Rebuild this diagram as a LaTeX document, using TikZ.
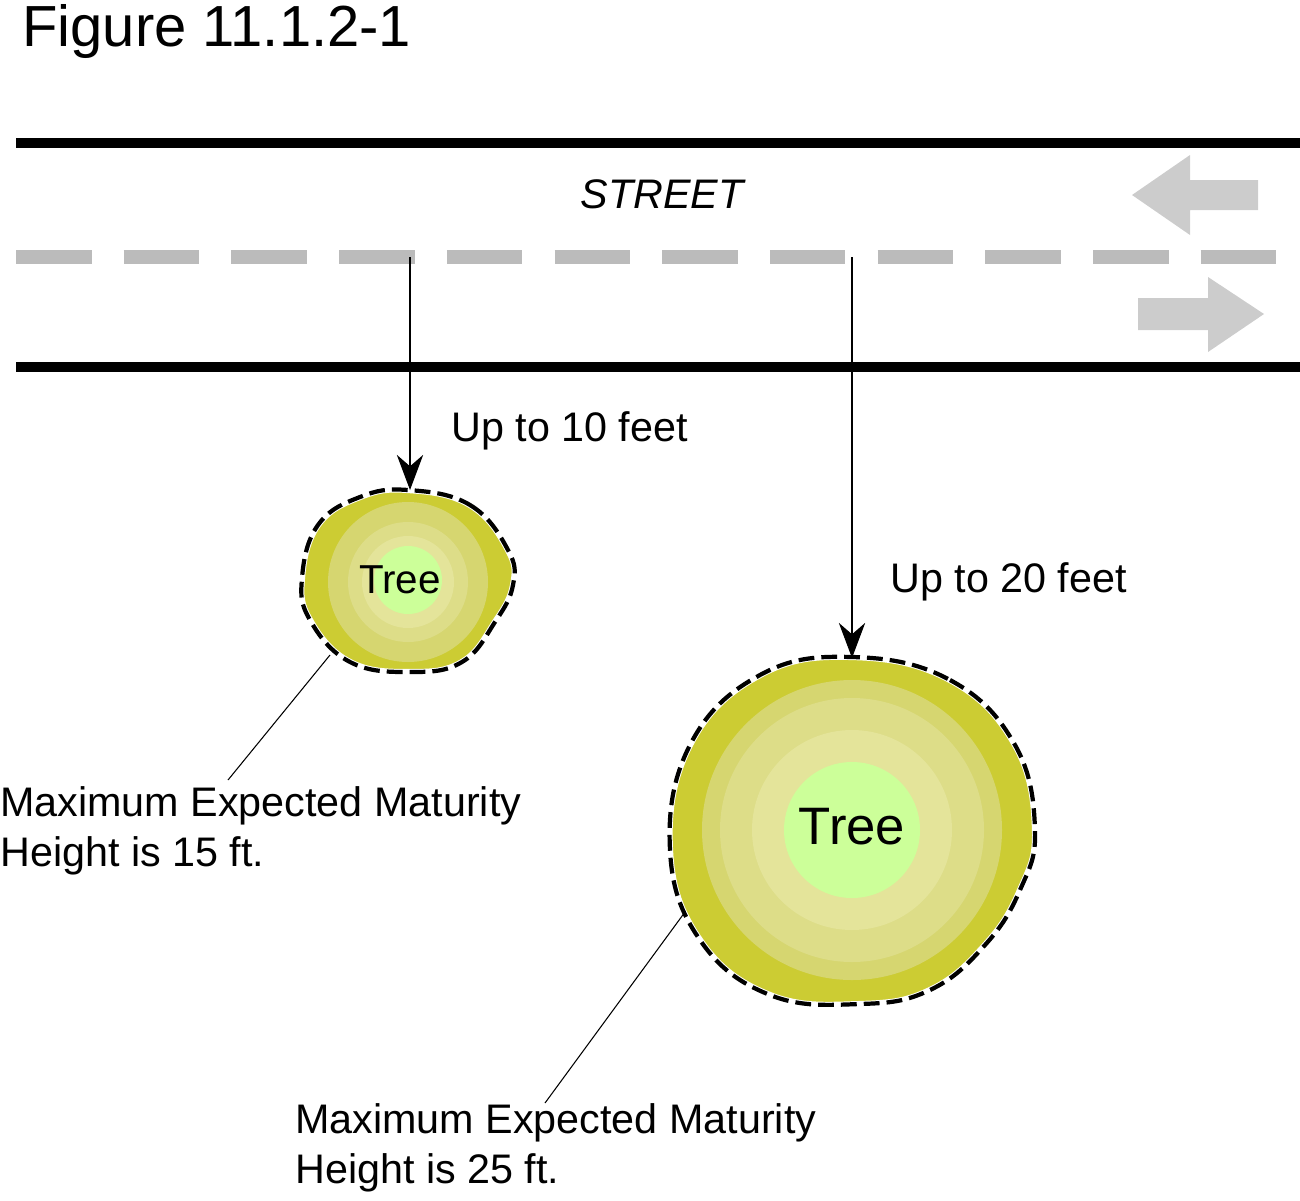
\documentclass[tikz,border=0pt]{standalone}
\usepackage{fontspec}
\setmainfont{Liberation Sans}
\usetikzlibrary{arrows.meta}
\definecolor{ring1}{HTML}{CCCC33}
\definecolor{ring2}{HTML}{D6D670}
\definecolor{ring3}{HTML}{DDDD88}
\definecolor{ring4}{HTML}{E4E49A}
\definecolor{core}{HTML}{CCFF99}
\definecolor{road}{HTML}{BBBBBB}
\definecolor{garrow}{HTML}{CCCCCC}
\begin{document}
\begin{tikzpicture}[x=0.02cm,y=-0.02cm,
  lbl/.style={font=\fontsize{23.5}{28}\selectfont,anchor=west,inner sep=0},
  blob/.style={draw=white,line width=3.5pt,fill=ring1},
  blobdash/.style={draw=black,line width=2.4pt,dash pattern=on 9pt off 4pt},
  arr/.style={-{Stealth[length=20pt,width=15pt]},line width=0.6pt},
  lead/.style={line width=0.6pt}]
\useasboundingbox (0,0) rectangle (1300,1200);
\node[lbl,font=\fontsize{33}{36}\selectfont] (fig) at (22,32) {Figure 11.1.2-1};
% road
\draw[line width=6pt] (16,143) -- (1300,143);
\draw[line width=6pt] (16,367) -- (1300,367);
\draw[road,line width=8pt,dash pattern=on 43pt off 18.3pt] (16,257) -- (1290,257);
\node[font=\itshape\fontsize{23.5}{28}\selectfont] (street) at (662,194) {STREET};
\fill[garrow] (1132,195) -- (1190,155) -- (1190,180) -- (1258,180) -- (1258,210) -- (1190,210) -- (1190,235) -- cycle;
\fill[garrow] (1264,314) -- (1208,277) -- (1208,298) -- (1138,298) -- (1138,330) -- (1208,330) -- (1208,352) -- cycle;
% small tree
\path[blob] plot[smooth cycle,tension=0.7] coordinates {(408,490) (470,505) (508,550) (513,585) (495,622) (462,662) (410,672) (350,662) (310,620) (302,578) (318,525) (360,497)};
\fill[ring2] (408,582) circle (80);
\fill[ring3] (408,582) circle (60);
\fill[ring4] (408,582) circle (46);
\fill[core] (408,580) circle (34);
\draw[blobdash] plot[smooth cycle,tension=0.7] coordinates {(408,490) (470,505) (508,550) (513,585) (495,622) (462,662) (410,672) (350,662) (310,620) (302,578) (318,525) (360,497)};
\node[font=\fontsize{23}{26}\selectfont] (t1) at (400,580) {Tree};
% big tree
\path[blob] plot[smooth cycle,tension=0.7] coordinates {(852,657) (950,680) (1015,745) (1035,830) (1020,890) (985,945) (930,990) (860,1004) (770,995) (700,940) (670,850) (690,745) (760,675)};
\fill[ring2] (852,830) circle (150);
\fill[ring3] (852,830) circle (132);
\fill[ring4] (852,830) circle (100);
\fill[core] (852,830) circle (68);
\draw[blobdash] plot[smooth cycle,tension=0.7] coordinates {(852,657) (950,680) (1015,745) (1035,830) (1020,890) (985,945) (930,990) (860,1004) (770,995) (700,940) (670,850) (690,745) (760,675)};
\node[font=\fontsize{30}{34}\selectfont] (t2) at (852,827) {Tree};
% arrows
\coordinate (a1s) at (410,257); \coordinate (a1e) at (410,490);
\coordinate (a2s) at (852,257); \coordinate (a2e) at (852,658);
\draw[arr] (a1s) -- (a1e);
\draw[arr] (a2s) -- (a2e);
\node[lbl] (u10) at (451,431) {Up to 10 feet};
\node[lbl] (u20) at (890,582) {Up to 20 feet};
% leaders
\coordinate (l1s) at (330,655); \coordinate (l1e) at (228,780);
\coordinate (l2s) at (685,912); \coordinate (l2e) at (545,1103);
\draw[lead] (l1s) -- (l1e);
\draw[lead] (l2s) -- (l2e);
\node[lbl,align=left,anchor=north west,font=\fontsize{23.5}{28.5}\selectfont] (m1) at (0,786) {Maximum Expected Maturity\\Height is 15 ft.};
\node[lbl,align=left,anchor=north west,font=\fontsize{23.5}{28.5}\selectfont] (m2) at (295,1103) {Maximum Expected Maturity\\Height is 25 ft.};
\end{tikzpicture}
\end{document}
